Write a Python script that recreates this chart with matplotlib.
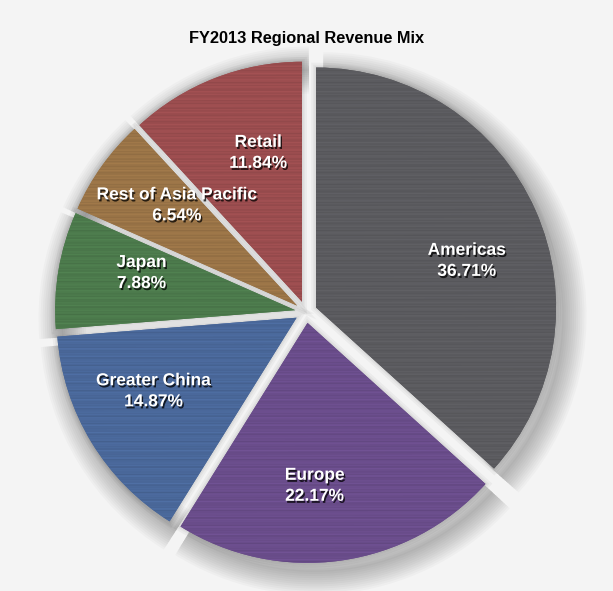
import numpy as np
import matplotlib
matplotlib.use('Agg')
import matplotlib.pyplot as plt
import matplotlib.patheffects as pe
from matplotlib.patches import Arc

# data
regions = ['Americas', 'Europe', 'Greater China', 'Japan', 'Rest of Asia Pacific', 'Retail']
shares = [36.71, 22.17, 14.87, 7.88, 6.54, 11.84]
colors = ['#5b5b5f', '#6a4d8b', '#4a689a', '#4c7a4c', '#9a7447', '#9b4d4f']

plt.rcParams['font.family'] = ['Liberation Sans', 'DejaVu Sans']

W, H = 613, 591
fig = plt.figure(figsize=(W / 100, H / 100), dpi=100)
fig.patch.set_facecolor('#f4f4f4')
ax = fig.add_axes([0, 0, 1, 1])
ax.set_facecolor('#f4f4f4')

cx, cy, r = 306, H - 312, 240

labels = ['%s\n%.2f%%' % (n, v) for n, v in zip(regions, shares)]
# explode is in data units here (pixels)
wedges, texts = ax.pie(shares, colors=colors, startangle=90, counterclock=False,
                       explode=[11] * len(shares), center=(cx, cy), radius=r,
                       labels=labels, labeldistance=0.67, frame=True,
                       wedgeprops=dict(linewidth=0, zorder=1),
                       textprops=dict(color='white', fontsize=12.5, fontweight='bold',
                                      linespacing=1.5))

# soft drop shadow along the outer rims only, light from upper left
rim_shadow = [pe.Stroke(offset=(5, -6), linewidth=lw, foreground='k', alpha=0.022)
              for lw in range(34, 0, -3)]
# faint grey glow along every edge so the gaps shade toward the slices
glow = [pe.Stroke(linewidth=lw, foreground='k', alpha=0.035) for lw in (7, 4, 2)] + [pe.Normal()]

# brushed look: row-wise brightness wobble
yy = np.arange(H)[:, None]
xx = np.arange(W)[None, :]
wob = 1 + 0.05 * np.sin(yy * 2.1) * np.cos(yy * 0.37 + 1.3) + 0.025 * np.sin(yy * 5.3 + xx * 0.004)

for w, c in zip(wedges, colors):
    arc = Arc(w.center, 2 * w.r, 2 * w.r, theta1=w.theta1, theta2=w.theta2,
              color='none', linewidth=0, zorder=0.5)
    arc.set_path_effects(rim_shadow)
    ax.add_patch(arc)
    w.set_path_effects(glow)
    rgb = np.array(matplotlib.colors.to_rgb(c))
    img = np.clip(rgb[None, None, :] * wob[:, :, None], 0, 1)
    im = ax.imshow(img, extent=(0, W, 0, H), origin='lower', zorder=2, interpolation='nearest')
    im.set_clip_path(w)

# labels sit a little clockwise of each wedge's middle
for w, t in zip(wedges, texts):
    a = np.deg2rad((w.theta1 + w.theta2) / 2 - 5)
    t.set_position((cx + 170 * np.cos(a), cy - 4 + 170 * np.sin(a)))
    t.set_ha('center')
    t.set_va('center')
    t.set_zorder(5)
    t.set_path_effects([pe.SimplePatchShadow(offset=(1, -1.5), shadow_rgbFace='k', alpha=0.75),
                        pe.Normal()])

ax.set_xlim(0, W)
ax.set_ylim(0, H)
ax.set_aspect('equal')
ax.axis('off')

fig.text(0.5, 1 - 38 / H, 'FY2013 Regional Revenue Mix', ha='center', va='center',
         fontsize=11.8, fontweight='bold', color='black')

fig.savefig('out.png', dpi=100, facecolor=fig.get_facecolor())
